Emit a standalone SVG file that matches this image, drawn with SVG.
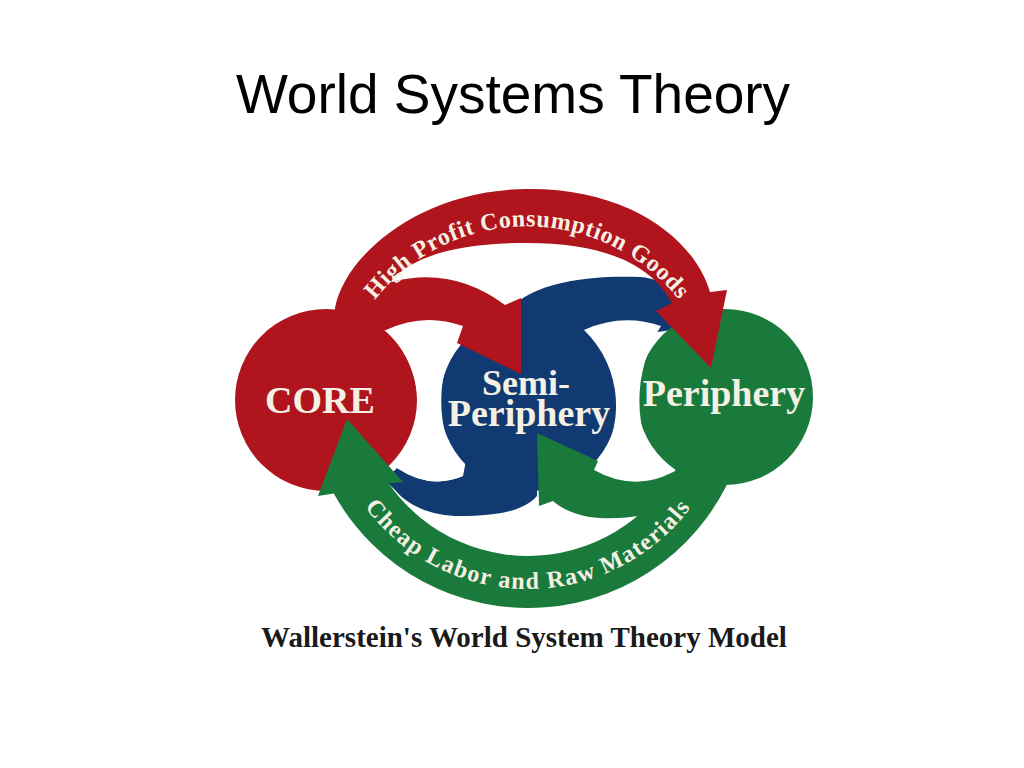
<svg xmlns="http://www.w3.org/2000/svg" xmlns:xlink="http://www.w3.org/1999/xlink" width="1024" height="768" viewBox="0 0 1024 768">
  <style>
    .red{fill:#b0151e}
    .blue{fill:#113a72}
    .green{fill:#1a7a3b}
    .gap{fill:#ffffff}
    .lbl{font-family:"Liberation Serif","Times New Roman",serif;font-weight:bold;fill:#f4f0e4;text-anchor:middle}
    .arc{font-family:"Liberation Serif","Times New Roman",serif;font-weight:bold;fill:#f4f0e4;font-size:24px}
  </style>
  <defs>
    <path id="topPath" d="M 371,305 A 194 194 0 0 1 683,305"/>
    <path id="botPath" d="M 358.7,498 A 203 203 0 0 0 697.3,498"/>
  </defs>
  <rect width="1024" height="768" fill="#ffffff"/>

  <text x="513" y="113" font-family="Liberation Sans, Arial, sans-serif" font-size="55" fill="#000000" text-anchor="middle">World Systems Theory</text>

  <g id="connectors-under">
    <path class="blue" d="M 537,430 L 537,496 C 525,510 500,516 460,516 C 435,516 410,508 395,490 L 385,480 L 397,468 Q 430,490 463,476 L 470,440 Z"/>
    <path class="blue" d="M 520,300 C 545,282 590,275 640,277 C 655,278 668,284 682,293 L 672,330 L 600,340 L 560,360 L 520,360 Z"/>
  </g>

  <g id="core"><circle class="red" cx="326" cy="400" r="91"/></g>
  <g id="semi-periphery"><circle class="blue" cx="529" cy="402" r="89"/></g>
  <g id="periphery"><circle class="green" cx="725" cy="397" r="88"/></g>

  <g id="gaps">
    <path class="gap" d="M 386,330 Q 424,312 463,326 A 140 140 0 0 0 463,476 Q 430,490 397,468 A 105 105 0 0 0 386,330 Z"/>
    <path class="gap" d="M 584,330 Q 622,313 661,326 A 140 140 0 0 0 662,477 Q 628,489 594,470 A 105 105 0 0 0 584,330 Z"/>
  </g>

  <g id="connectors">
    <path class="red" d="M 360,300 L 392,282 Q 452,266 505,305 L 521,298 L 521,374 L 457,343 L 463,326 Q 424,312 386,330 L 360,330 Z"/>
    <path class="green" d="M 537,433 L 598,461 L 594,470 Q 628,489 662,477 L 700,460 L 715,485 C 690,505 650,520 600,518 C 580,517 563,510 553,501 L 539,506 Z"/>
    <path class="red" d="M 335,308 C 345,255 420,190 527,189 C 630,188 695,240 710,292 L 727,290 L 711,368 L 656,311 L 672,303 C 650,262 600,243 527,243 C 460,243 415,255 392,280 L 385,330 L 335,330 Z"/>
    <path class="green" d="M 736.6,461.9 A 222 222 0 0 1 333.8,493.6 L 318,496 L 347,419 L 403,482 L 388.7,483.5 A 170 170 0 0 0 687.7,444.1 Z"/>
    <text class="arc" letter-spacing="0.6"><textPath xlink:href="#topPath" href="#topPath" startOffset="50%" text-anchor="middle">High Profit Consumption Goods</textPath></text>
    <text class="arc" letter-spacing="1.4"><textPath xlink:href="#botPath" href="#botPath" startOffset="50%" text-anchor="middle">Cheap Labor and Raw Materials</textPath></text>
  </g>

  <g id="labels">
    <text class="lbl" x="320" y="413" font-size="38">CORE</text>
    <text class="lbl" font-size="36"><tspan x="526" y="395">Semi-</tspan><tspan x="529" y="426" font-size="38">Periphery</tspan></text>
    <text class="lbl" x="724" y="406" font-size="38">Periphery</text>
  </g>

  <text x="524" y="647" font-family="Liberation Serif, Times New Roman, serif" font-weight="bold" font-size="29" fill="#1a1a1a" text-anchor="middle">Wallerstein's World System Theory Model</text>
</svg>
